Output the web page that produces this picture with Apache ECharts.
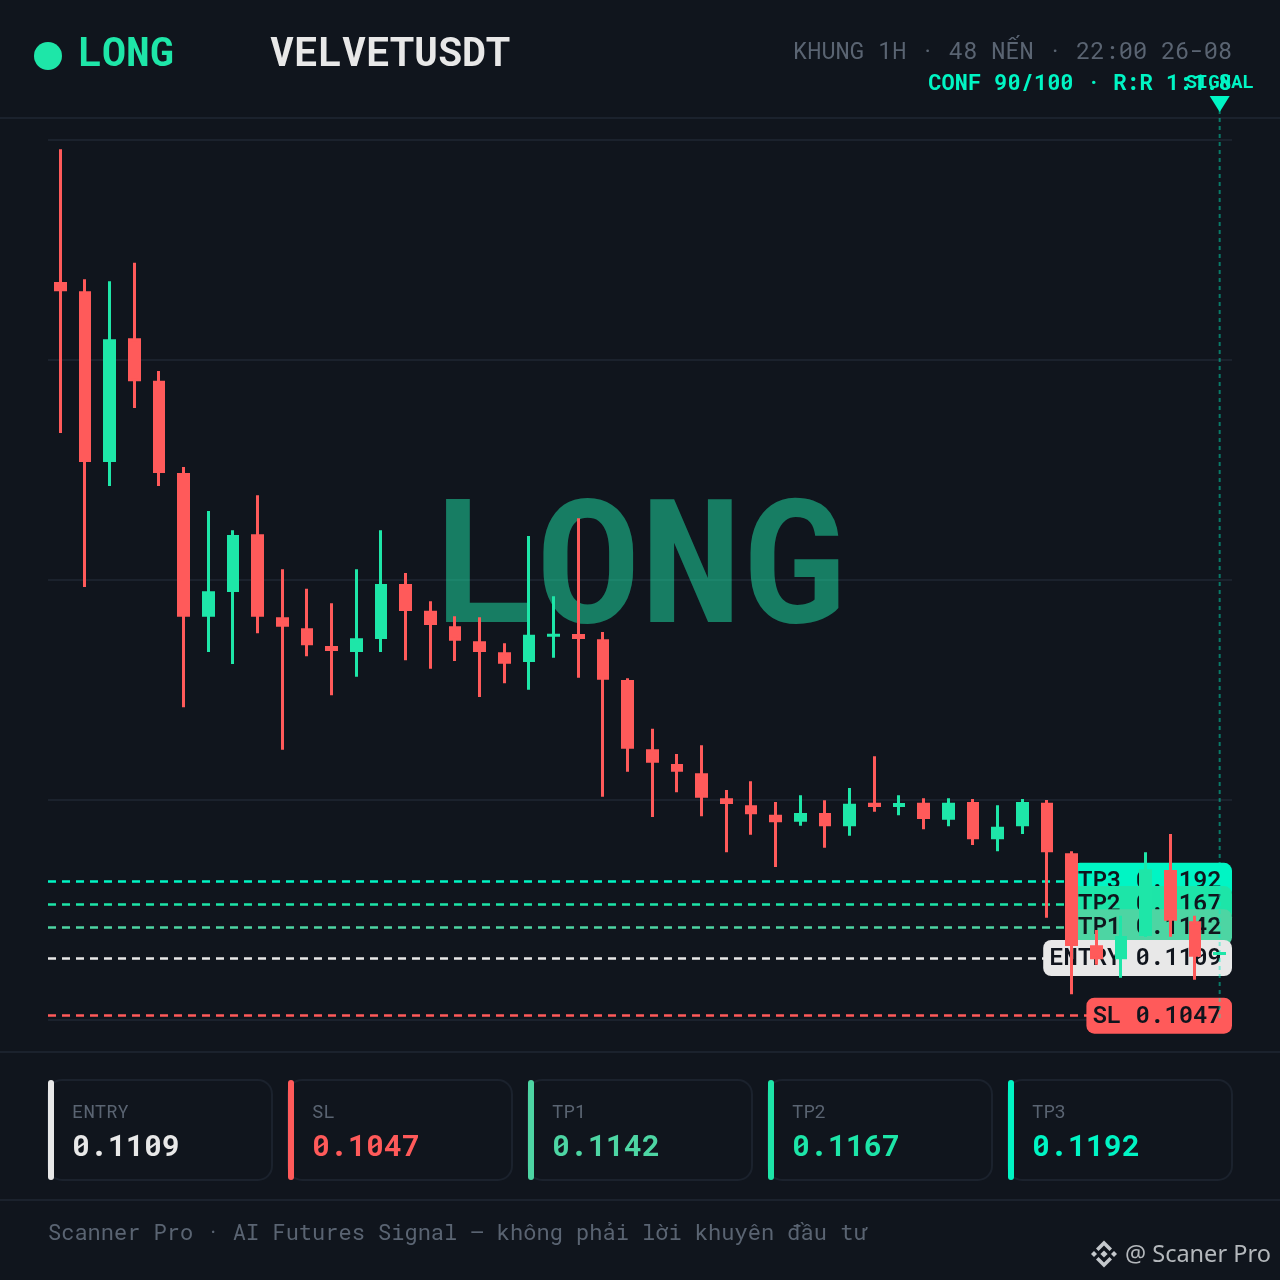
<!DOCTYPE html>
<html><head><meta charset="utf-8">
<style>html,body{margin:0;padding:0;background:#10151d}#c{width:1280px;height:1280px}</style>
<script src="https://cdn.jsdelivr.net/npm/echarts@6/dist/echarts.min.js"></script>
</head><body><div id="c"></div>
<script>
const opens=[.18359,.18259,.16423,.17754,.17298,.16305,.1476,.15026,.15646,.14754,.14635,.14445,.1438,.1452,.15112,.14825,.14657,.14495,.14377,.14273,.14549,.14574,.14517,.14079,.13334,.13176,.13076,.12807,.12732,.12631,.12556,.12649,.12506,.1276,.12714,.1276,.12577,.12767,.12366,.12506,.1276,.12216,.11227,.11076,.11327,.12036,.11485,.11122];
const closes=[.18259,.16423,.17743,.17291,.16305,.1476,.15033,.15639,.1476,.14652,.14452,.14391,.14528,.15112,.14821,.14671,.14502,.1438,.14255,.14566,.14574,.1452,.14083,.13341,.1319,.13093,.12814,.12746,.12635,.12549,.12649,.12506,.12749,.12714,.12757,.12585,.1276,.12366,.12502,.12767,.12227,.11219,.11076,.11327,.12044,.11491,.11104,.11155];
const lows=[.16735,.15079,.16165,.17004,.16165,.13786,.1438,.14251,.14582,.1333,.14334,.13915,.14115,.1438,.14291,.14201,.14284,.13897,.14044,.13975,.14319,.14104,.12824,.13093,.12606,.12872,.12614,.12227,.12416,.12069,.12513,.12276,.12405,.12663,.12624,.12474,.12506,.12305,.12237,.12423,.11523,.107,.11018,.10878,.11316,.11319,.10857,.11122];
const highs=[.19786,.18388,.18367,.18567,.17402,.1637,.15897,.15689,.16065,.1527,.15061,.14904,.1527,.15689,.1523,.14926,.14764,.14754,.14474,.15628,.14979,.15818,.14595,.14098,.13556,.13284,.13377,.12897,.1299,.12767,.1284,.12786,.12918,.13259,.1284,.12807,.12807,.128,.12732,.128,.12789,.12237,.11391,.11545,.12227,.12423,.11545,.11155];
const levelNames=['TP3','TP2','TP1','ENTRY','SL'];
const levelValues=[0.1192,0.1167,0.1142,0.1109,0.1047];
const levelColors=['#00f5c4','#1de5a8','#4dd5a3','#e8e8e8','#ff5a5a'];
const cardOrder=[3,4,2,1,0];
const gridPrices=[.19886,.17520,.15154,.12789,.10423];
const axisMin=.10423, axisMax=.19886;
const FONT='"Roboto Mono","JetBrains Mono","DejaVu Sans Mono","Liberation Mono",monospace';
const BG='#10151d', LINE='#1b222d', UP='#1ee6a8', DOWN='#ff5a5a', ACC='#00f5c4';
const STROKE=3, PLOT_H=880;
const chart=echarts.init(document.getElementById('c'),null,{renderer:'canvas'});
// The values above were read at the outer edge of each body; the stroke is centred on the edge, so pull it in by half.
const halfStroke=(STROKE/2)*(axisMax-axisMin)/PLOT_H;
const candle=opens.map((o,i)=>{
  const c=closes[i], dir=c>=o?1:-1, mid=(o+c)/2, half=Math.max(Math.abs(c-o)/2-halfStroke,1e-6);
  return [mid-dir*half,mid+dir*half,lows[i],highs[i]];
});
chart.setOption({
  animation:false,backgroundColor:BG,
  grid:{left:48,right:48,top:140,height:PLOT_H,containLabel:false},
  xAxis:{type:'category',data:opens.map((_,i)=>String(i+1)),show:false,boundaryGap:true},
  yAxis:{type:'value',min:axisMin,max:axisMax,show:false,scale:true,splitLine:{show:false}},
  series:[
    {type:'candlestick',z:30,data:candle,barWidth:10,silent:true,
      itemStyle:{color:UP,color0:DOWN,borderColor:UP,borderColor0:DOWN,borderWidth:STROKE},
      markLine:{z:1,silent:true,symbol:'none',precision:6,label:{show:false},animation:false,
        data:gridPrices.map(v=>({yAxis:v,lineStyle:{color:LINE,width:2,type:'solid'}}))
          .concat(levelValues.map((v,i)=>({yAxis:v,lineStyle:{color:levelColors[i],width:2.6,type:[8,6]}})))}}
  ]
});
const Y=v=>chart.convertToPixel({yAxisIndex:0},v);
const X=i=>chart.convertToPixel({xAxisIndex:0},i);
const g=[];
const rect=(x,y,w,h,fill,r,z,stroke,lw)=>g.push({type:'rect',z:z||2,shape:{x,y,width:w,height:h,r:r||0},style:{fill:fill||'none',stroke:stroke||null,lineWidth:lw||0},silent:true});
const text=(t,x,y,size,fill,o={})=>g.push({type:'text',z:o.z||2,silent:true,style:{text:t,x,y,fill,textAlign:o.align||'left',textVerticalAlign:'middle',font:(o.weight?o.weight+' ':'')+size+'px '+(o.family||FONT)}});
// separators
[118,1052,1200].forEach(y=>rect(0,y-1,1280,2,LINE));
// header
g.push({type:'circle',z:2,silent:true,shape:{cx:48,cy:56,r:14},style:{fill:UP}});
text('LONG',78,54,40,UP,{weight:'bold'});
text('VELVETUSDT',270,54,40,'#e8e8e8',{weight:'bold'});
text('KHUNG 1H · 48 NẾN · 22:00 26-08',1232,52,23.6,'#5a6472',{align:'right'});
text('CONF 90/100 · R:R 1:1.8',1232,84,22,ACC,{align:'right',weight:'bold'});
// watermark
text('LONG',640,571,172,'rgba(30,230,170,0.5)',{align:'center',weight:'bold',z:2});
// signal marker
const sx=X(47);
g.push({type:'line',z:25,silent:true,shape:{x1:sx,y1:110,x2:sx,y2:1020},style:{stroke:'rgba(0,245,196,0.45)',lineWidth:2,lineDash:[4,4]}});
g.push({type:'polygon',z:25,silent:true,shape:{points:[[sx-10,96],[sx+10,96],[sx,112]]},style:{fill:ACC}});
text('SIGNAL',sx,82.5,19,ACC,{align:'center',weight:'bold',z:25});
// pills
levelNames.forEach((n,i)=>{
  const t=n+' '+levelValues[i].toFixed(4), w=t.length*14.4+16, y=Y(levelValues[i]);
  rect(1232-w,y-18,w,36,levelColors[i],8,10+i*2);
  text(t,1222,y,24,'#10151d',{align:'right',weight:600,z:11+i*2});
});
// cards
cardOrder.forEach((k,i)=>{
  const x=48+i*240;
  rect(x,1080,224,100,'none',14,2,LINE,2);
  rect(x,1080,6,100,levelColors[k],3,3);
  text(levelNames[k],x+24,1112,19,'#5a6472');
  text(levelValues[k].toFixed(4),x+24,1147,30,levelColors[k],{weight:'bold'});
});
// footer
text('Scanner Pro · AI Futures Signal — không phải lời khuyên đầu tư',48,1234,22,'#5a6472');
text('@ Scaner Pro',1125,1255,23.5,'#b4b8bc',{family:'"Noto Sans",sans-serif'});
// brand mark
const ic='#c4c8cc', cx=1104, cy=1254;
const poly=pts=>g.push({type:'polygon',z:2,silent:true,shape:{points:pts.map(p=>[cx+p[0],cy+p[1]])},style:{fill:ic}});
const dia=(dx,r)=>poly([[dx,-r],[dx+r,0],[dx,r],[dx-r,0]]);
dia(0,3.6);dia(-10,3);dia(10,3);
[1,-1].forEach(s=>poly([[0,-13.5*s],[8,-5.5*s],[5.5,-3*s],[0,-8.5*s],[-5.5,-3*s],[-8,-5.5*s]]));
chart.setOption({graphic:{elements:g}});
</script></body></html>
